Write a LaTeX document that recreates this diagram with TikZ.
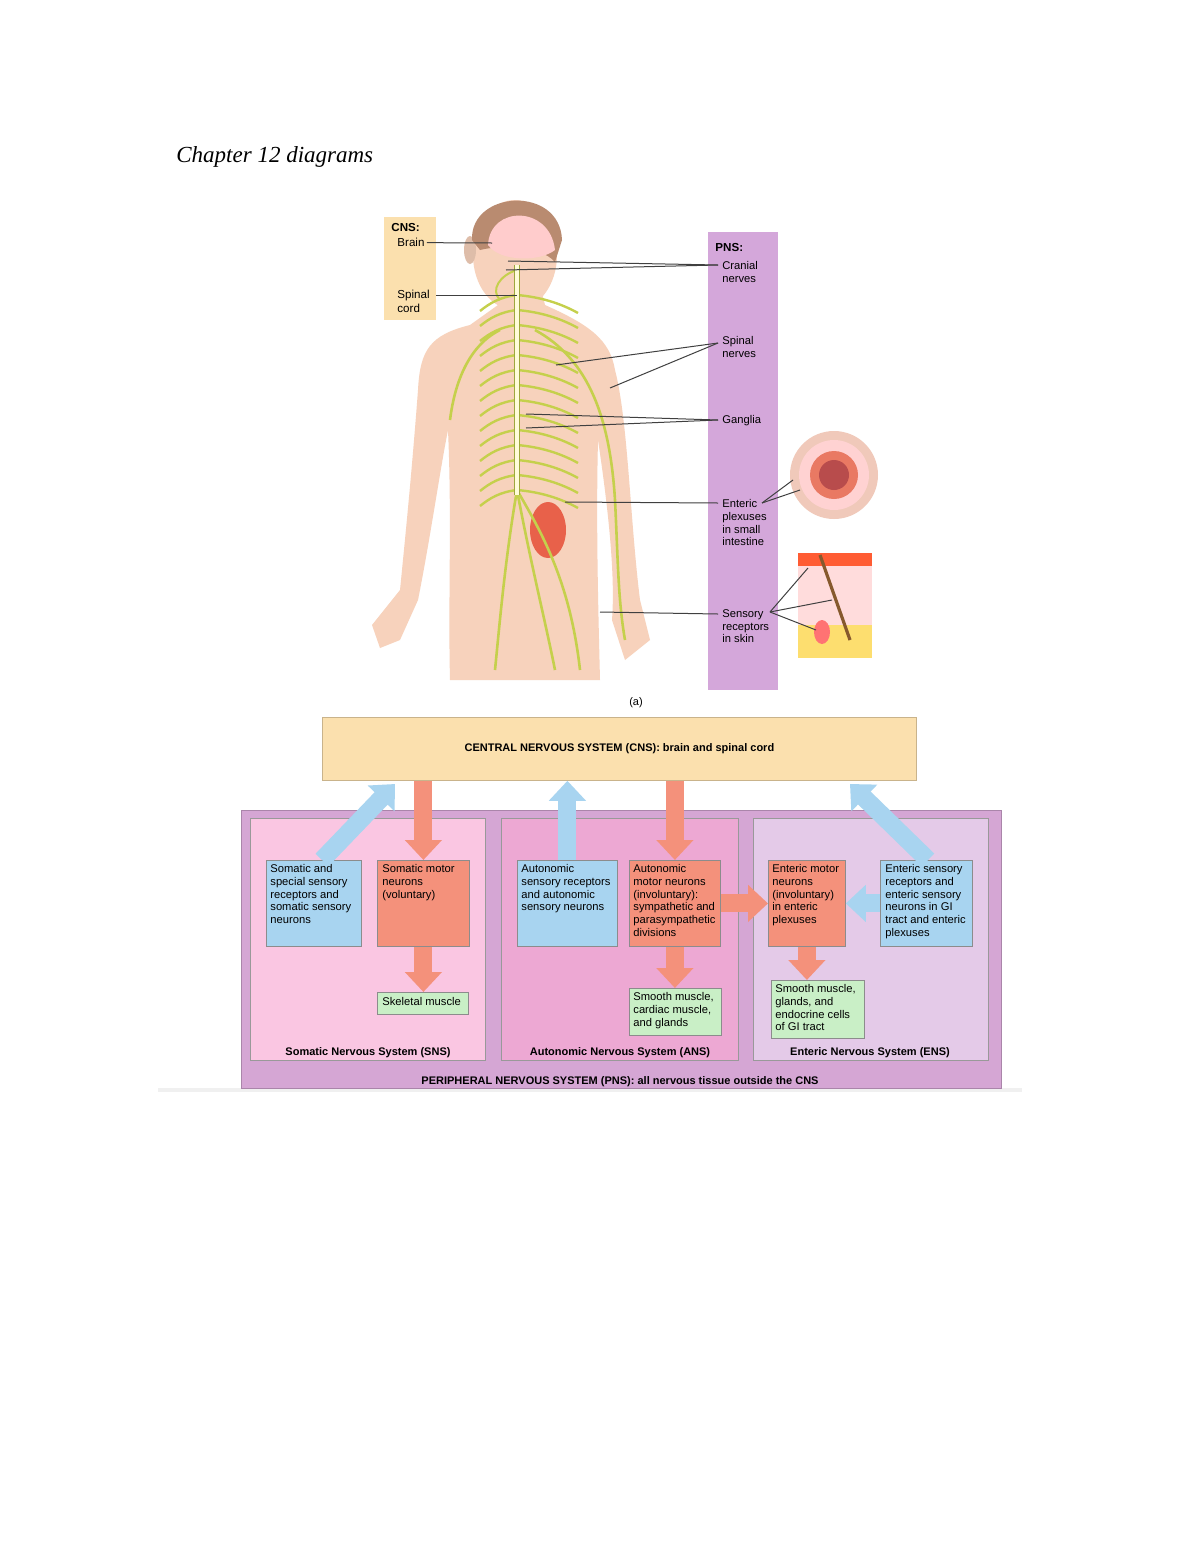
\documentclass[tikz,border=0pt]{standalone}
\usepackage{fontspec}
\setmainfont{Liberation Sans}
\usetikzlibrary{arrows.meta,calc}
\definecolor{cnsy}{HTML}{FBE0AE}
\definecolor{pnsp}{HTML}{D4A7DA}
\definecolor{pnsb}{HTML}{D5A6D4}
\definecolor{snsp}{HTML}{FAC6E2}
\definecolor{ansp}{HTML}{EDA8D3}
\definecolor{ensp}{HTML}{E4CAE8}
\definecolor{bluebox}{HTML}{A8D4F0}
\definecolor{redbox}{HTML}{F4917B}
\definecolor{greenbox}{HTML}{C9EFC6}
\definecolor{skin}{HTML}{F7D2BC}
\definecolor{nerve}{HTML}{C5D04C}
\definecolor{hair}{HTML}{B98B70}
\begin{document}
\begin{tikzpicture}[x=0.5pt,y=-0.5pt,
  txt/.style={font=\fontsize{5.6}{6.4}\selectfont, align=left, inner sep=0pt, anchor=north west},
  box/.style={draw=black!45, line width=0.4pt, inner sep=0pt},
  lbl/.style={draw=black!75, line width=0.5pt},
  upar/.style={line width=9pt, draw=bluebox, -{Triangle[length=10pt,width=18pt]}},
  dnar/.style={line width=9pt, draw=redbox, -{Triangle[length=10pt,width=18pt]}},
  panel/.style={draw=black!40, line width=0.5pt}]
\useasboundingbox (0,0) rectangle (1200,1553);
\fill[white] (0,0) rectangle (1200,1553);
\node[anchor=west, inner sep=0pt, font=\fontsize{11.5}{13}\selectfont\itshape\rmfamily] (title) at (176,157) {\fontspec{Liberation Serif}Chapter 12 diagrams};

% ---------- top figure ----------
\fill[cnsy] (384,217) rectangle (436,320);
\fill[pnsp] (708,232) rectangle (778,690);
% body
\fill[skin] (505,300) -- (470,325) .. controls (430,335) and (420,350) .. (418,390)
  .. controls (412,470) and (405,540) .. (400,590) -- (372,625) -- (380,648) -- (400,640)
  -- (418,600) .. controls (430,540) and (440,470) .. (448,430)
  .. controls (452,520) and (448,600) .. (450,680) -- (600,680)
  .. controls (598,600) and (596,520) .. (598,440)
  .. controls (610,520) and (615,580) .. (612,620) -- (625,660) -- (650,640) -- (640,600)
  .. controls (630,520) and (628,420) .. (615,370) .. controls (610,340) and (590,325) .. (545,305)
  -- (540,285) -- cycle;
\fill[skin] (515,255) ellipse (42 and 55);
\fill[skin!90!black] (470,250) ellipse (6 and 14);
\fill[hair] (472,240) .. controls (470,190) and (560,185) .. (562,240) -- (555,262) .. controls (540,245) and (500,245) .. (480,250) -- cycle;
\fill[pink!80!white] (488,245) .. controls (490,205) and (550,205) .. (555,250) .. controls (540,262) and (500,262) .. (488,245) -- cycle;
% intestine
\fill[red!55!brown!80] (548,530) ellipse (18 and 28);
% nerves
\foreach \y in {295,310,...,490} {
  \draw[nerve, line width=1.2pt] (517,\y) .. controls (540,\y+2) and (560,\y+8) .. (578,\y+18);
  \draw[nerve, line width=1.2pt] (517,\y) .. controls (500,\y+2) and (490,\y+8) .. (480,\y+16);
}
\draw[nerve, line width=1.3pt] (535,330) .. controls (590,360) and (610,420) .. (615,500) .. controls (618,560) and (618,600) .. (625,640);
\draw[nerve, line width=1.3pt] (500,330) .. controls (470,345) and (455,380) .. (450,420);
\draw[nerve, line width=1.3pt] (517,490) .. controls (530,560) and (545,620) .. (555,670);
\draw[nerve, line width=1.3pt] (517,490) .. controls (505,560) and (500,620) .. (495,670);
\draw[nerve, line width=1.3pt] (517,490) .. controls (540,530) and (570,580) .. (580,670);
\draw[nerve, line width=1pt] (517,270) .. controls (500,275) and (490,290) .. (500,300);
\draw[nerve!80!black, line width=3.2pt] (517,265) -- (517,495);
\draw[white!85!yellow, line width=1.8pt] (517,265) -- (517,495);
% inset circle
\fill[pink!60!brown!60] (834,475) circle (44);
\fill[pink!70] (834,475) circle (35);
\fill[red!50!brown!70] (834,475) circle (24);
\fill[red!60!black!70] (834,475) circle (15);
% skin inset
\fill[pink!55] (798,553) rectangle (872,658);
\fill[red!60!orange!80] (798,553) rectangle (872,566);
\fill[yellow!60!orange!55] (798,625) rectangle (872,658);
\draw[brown!70!black, line width=1.6pt] (820,555) -- (850,640);
\fill[red!55] (822,632) ellipse (8 and 12);
% labels
\node[txt, font=\fontsize{5.8}{6.6}\selectfont\bfseries] (cnsl) at (391,223) {CNS:};
\node[txt, font=\fontsize{5.8}{6.6}\selectfont] (brain) at (397,238) {Brain};
\node[txt, font=\fontsize{5.8}{6.6}\selectfont] (spinal) at (397,290) {Spinal\\cord};
\coordinate (brainp) at (492,243);
\coordinate (spinep) at (517,295);
\draw[lbl] (brain.east) ++(2,0) -- (brainp);
\draw[lbl] (436,295) -- (spinep);
\node[txt, font=\fontsize{5.8}{6.6}\selectfont\bfseries] (pnsl) at (715,243) {PNS:};
\node[txt] (cran) at (722,261) {Cranial\\nerves};
\node[txt] (spn) at (722,336) {Spinal\\nerves};
\node[txt] (gang) at (722,415) {Ganglia};
\node[txt] (ent) at (722,499) {Enteric\\plexuses\\in small\\intestine};
\node[txt] (sens) at (722,609) {Sensory\\receptors\\in skin};
\coordinate (c1) at (508,261); \coordinate (c2) at (506,270);
\draw[lbl] (718,265) -- (c1); \draw[lbl] (718,265) -- (c2);
\coordinate (s1) at (556,365); \coordinate (s2) at (610,388);
\draw[lbl] (718,343) -- (s1); \draw[lbl] (718,343) -- (s2);
\coordinate (g1) at (526,414); \coordinate (g2) at (526,428);
\draw[lbl] (718,420) -- (g1); \draw[lbl] (718,420) -- (g2);
\coordinate (e1) at (565,502); \draw[lbl] (718,503) -- (e1);
\coordinate (e2) at (793,480); \coordinate (e3) at (800,490);
\draw[lbl] (762,503) -- (e2); \draw[lbl] (762,503) -- (e3);
\coordinate (r0) at (600,612); \draw[lbl] (718,614) -- (r0);
\coordinate (r1) at (808,568); \coordinate (r2) at (832,600); \coordinate (r3) at (816,630);
\draw[lbl] (770,612) -- (r1); \draw[lbl] (770,612) -- (r2); \draw[lbl] (770,612) -- (r3);
\node[font=\fontsize{5.5}{6.5}\selectfont] (a) at (636,703) {(a)};

% ---------- bottom figure ----------
\draw[fill=black!6, draw=none] (158,1088) rectangle (1022,1092);
\node[box, fill=pnsb, draw=pnsb!80!black, minimum width=380pt, minimum height=139pt, anchor=north west] (pns) at (241,810) {};
\node[font=\fontsize{5.5}{6.5}\selectfont\bfseries] (pnst) at (620,1082) {PERIPHERAL NERVOUS SYSTEM (PNS): all nervous tissue outside the CNS};
\node[box, fill=cnsy, draw=cnsy!80!black, minimum width=297pt, minimum height=31.5pt, anchor=north west,
  font=\fontsize{5.5}{6.5}\selectfont\bfseries] (cns) at (322,717) {CENTRAL NERVOUS SYSTEM (CNS): brain and spinal cord};
\node[panel, fill=snsp, minimum width=117.5pt, minimum height=121pt, anchor=north west] (sns) at (250,818) {};
\node[panel, fill=ansp, minimum width=118.5pt, minimum height=121pt, anchor=north west] (ans) at (501,818) {};
\node[panel, fill=ensp, minimum width=117.5pt, minimum height=121pt, anchor=north west] (ens) at (753,818) {};
\node[font=\fontsize{5.5}{6.5}\selectfont\bfseries] (snst) at (368,1053) {Somatic Nervous System (SNS)};
\node[font=\fontsize{5.5}{6.5}\selectfont\bfseries] (anst) at (620,1053) {Autonomic Nervous System (ANS)};
\node[font=\fontsize{5.5}{6.5}\selectfont\bfseries] (enst) at (870,1053) {Enteric Nervous System (ENS)};
% boxes
\node[box, fill=bluebox, minimum width=47.5pt, minimum height=43pt, anchor=north west] (ssens) at (266,860) {};
\node[txt] at (270,864) {Somatic and\\special sensory\\receptors and\\somatic sensory\\neurons};
\node[box, fill=redbox, minimum width=46pt, minimum height=43pt, anchor=north west] (smot) at (377,860) {};
\node[txt] at (382,864) {Somatic motor\\neurons\\(voluntary)};
\node[box, fill=bluebox, minimum width=50pt, minimum height=43pt, anchor=north west] (asens) at (517,860) {};
\node[txt] at (521,864) {Autonomic\\sensory receptors\\and autonomic\\sensory neurons};
\node[box, fill=redbox, minimum width=45.5pt, minimum height=43pt, anchor=north west] (amot) at (629,860) {};
\node[txt] at (633,864) {Autonomic\\motor neurons\\(involuntary):\\sympathetic and\\parasympathetic\\divisions};
\node[box, fill=redbox, minimum width=38.5pt, minimum height=43pt, anchor=north west] (emot) at (768,860) {};
\node[txt] at (772,864) {Enteric motor\\neurons\\(involuntary)\\in enteric\\plexuses};
\node[box, fill=bluebox, minimum width=46pt, minimum height=43pt, anchor=north west] (esens) at (880,860) {};
\node[txt] at (885,864) {Enteric sensory\\receptors and\\enteric sensory\\neurons in GI\\tract and enteric\\plexuses};
\node[box, fill=greenbox, minimum width=45.5pt, minimum height=11pt, anchor=north west] (skel) at (377,992) {};
\node[txt] at (382,997) {Skeletal muscle};
\node[box, fill=greenbox, minimum width=46pt, minimum height=23.5pt, anchor=north west] (smc) at (629,988) {};
\node[txt] at (633,992) {Smooth muscle,\\cardiac muscle,\\and glands};
\node[box, fill=greenbox, minimum width=46.5pt, minimum height=29pt, anchor=north west] (sme) at (771,980) {};
\node[txt] at (775,984) {Smooth muscle,\\glands, and\\endocrine cells\\of GI tract};
% arrows
\coordinate (cA) at (395,784);
\coordinate (cE) at (850,784);
\coordinate (sA) at (322,860); \coordinate (sE) at (928,860);
\draw[upar] (sA) -- (cA);
\draw[dnar] (smot.north |- cns.south) -- (smot.north);
\draw[upar] (asens.north) -- (asens.north |- cns.south);
\draw[dnar] (amot.north |- cns.south) -- (amot.north);
\draw[upar] (sE) -- (cE);
\draw[dnar] (smot.south) -- (smot.south |- skel.north);
\draw[dnar] (amot.south) -- (amot.south |- smc.north);
\draw[dnar] (emot.south) -- (emot.south |- sme.north);
\draw[dnar] (amot.east) -- (emot.west);
\draw[upar] (esens.west) -- (emot.east);
\end{tikzpicture}
\end{document}
